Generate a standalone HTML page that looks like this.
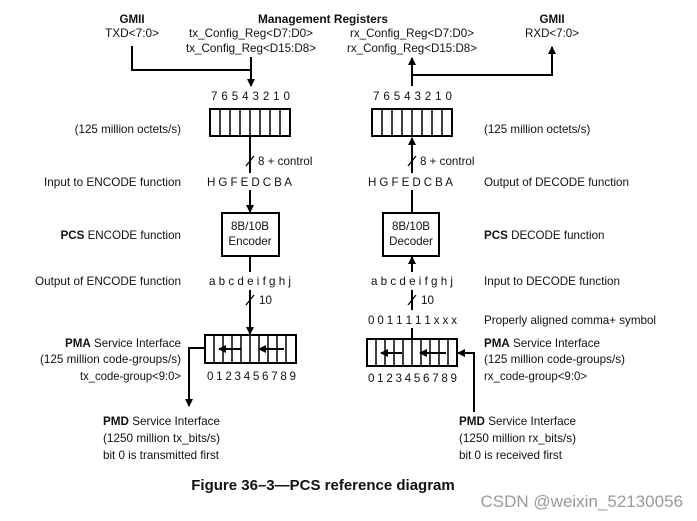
<!DOCTYPE html>
<html><head><meta charset="utf-8"><style>
html,body{margin:0;padding:0;background:#fff;}
svg{display:block;font-family:"Liberation Sans",Arial,sans-serif;}
text{font-size:11.6px;fill:#111;}
</style></head><body>
<svg width="697" height="521" viewBox="0 0 697 521" xmlns="http://www.w3.org/2000/svg">
<defs>
<marker id="a" markerWidth="8" markerHeight="8" refX="7" refY="4" orient="auto" markerUnits="userSpaceOnUse"><path d="M0,0 L8,4 L0,8 z" fill="#000"/></marker>
</defs>
<g stroke="#000" stroke-width="2" fill="none">
<polyline points="132,46 132,70 251,70"/>
<line x1="251" y1="57" x2="251" y2="86" marker-end="url(#a)"/>
<line x1="412" y1="86" x2="412" y2="58" marker-end="url(#a)"/>
<polyline points="412,75 552,75 552,47" marker-end="url(#a)"/>
<rect x="210" y="109" width="80" height="27"/>
<rect x="372" y="109" width="80" height="27"/>
</g>
<g stroke="#000" stroke-width="1.5">
<line x1="220" y1="109" x2="220" y2="136"/><line x1="230" y1="109" x2="230" y2="136"/><line x1="240" y1="109" x2="240" y2="136"/><line x1="250" y1="109" x2="250" y2="136"/><line x1="260" y1="109" x2="260" y2="136"/><line x1="270" y1="109" x2="270" y2="136"/><line x1="280" y1="109" x2="280" y2="136"/>
<line x1="382" y1="109" x2="382" y2="136"/><line x1="392" y1="109" x2="392" y2="136"/><line x1="402" y1="109" x2="402" y2="136"/><line x1="412" y1="109" x2="412" y2="136"/><line x1="422" y1="109" x2="422" y2="136"/><line x1="432" y1="109" x2="432" y2="136"/><line x1="442" y1="109" x2="442" y2="136"/>
</g>
<g stroke="#000" stroke-width="2" fill="none">
<line x1="250" y1="136" x2="250" y2="173"/>
<line x1="412" y1="173" x2="412" y2="138" marker-end="url(#a)"/>
<line x1="246" y1="166" x2="254" y2="156" stroke-width="1.3"/>
<line x1="408" y1="166" x2="416" y2="156" stroke-width="1.3"/>
<line x1="250" y1="190" x2="250" y2="212" marker-end="url(#a)"/>
<line x1="412" y1="190" x2="412" y2="213"/>
<rect x="222" y="213" width="57" height="43"/>
<rect x="383" y="213" width="56" height="43"/>
<line x1="250" y1="256" x2="250" y2="272"/>
<line x1="412" y1="272" x2="412" y2="257" marker-end="url(#a)"/>
<line x1="250" y1="290" x2="250" y2="334" marker-end="url(#a)"/>
<line x1="246" y1="305" x2="254" y2="295" stroke-width="1.3"/>
<line x1="412" y1="290" x2="412" y2="310"/>
<line x1="408" y1="305" x2="416" y2="295" stroke-width="1.3"/>
<line x1="412" y1="328" x2="412" y2="339"/>
<rect x="205" y="335" width="91" height="28"/>
<rect x="367" y="339" width="90" height="27"/>
<polyline points="205,348 189,348 189,406" marker-end="url(#a)"/>
<polyline points="474,412 474,353 458,353" marker-end="url(#a)"/>
</g>
<g stroke="#000" stroke-width="1.5">
<line x1="214" y1="335" x2="214" y2="363"/><line x1="223" y1="335" x2="223" y2="363"/><line x1="232" y1="335" x2="232" y2="363"/><line x1="241" y1="335" x2="241" y2="363"/><line x1="250" y1="335" x2="250" y2="363"/><line x1="259" y1="335" x2="259" y2="363"/><line x1="268" y1="335" x2="268" y2="363"/><line x1="277" y1="335" x2="277" y2="363"/><line x1="286" y1="335" x2="286" y2="363"/>
<line x1="376" y1="339" x2="376" y2="366"/><line x1="385" y1="339" x2="385" y2="366"/><line x1="394" y1="339" x2="394" y2="366"/><line x1="403" y1="339" x2="403" y2="366"/><line x1="412" y1="339" x2="412" y2="366"/><line x1="421" y1="339" x2="421" y2="366"/><line x1="430" y1="339" x2="430" y2="366"/><line x1="439" y1="339" x2="439" y2="366"/><line x1="448" y1="339" x2="448" y2="366"/>
</g>
<g stroke="#000" stroke-width="2">
<line x1="241" y1="349" x2="219" y2="349" marker-end="url(#a)"/>
<line x1="284" y1="349" x2="259" y2="349" marker-end="url(#a)"/>
<line x1="402" y1="353" x2="381" y2="353" marker-end="url(#a)"/>
<line x1="446" y1="353" x2="420" y2="353" marker-end="url(#a)"/>
</g>

<text x="132" y="23" text-anchor="middle" font-weight="bold">GMII</text>
<text x="132" y="37" text-anchor="middle" textLength="54" lengthAdjust="spacingAndGlyphs">TXD&lt;7:0&gt;</text>
<text x="323" y="23" text-anchor="middle" font-weight="bold" textLength="130" lengthAdjust="spacingAndGlyphs">Management Registers</text>
<text x="251" y="37" text-anchor="middle" textLength="124" lengthAdjust="spacingAndGlyphs">tx_Config_Reg&lt;D7:D0&gt;</text>
<text x="251" y="52" text-anchor="middle" textLength="130" lengthAdjust="spacingAndGlyphs">tx_Config_Reg&lt;D15:D8&gt;</text>
<text x="412" y="37" text-anchor="middle" textLength="124" lengthAdjust="spacingAndGlyphs">rx_Config_Reg&lt;D7:D0&gt;</text>
<text x="412" y="52" text-anchor="middle" textLength="130" lengthAdjust="spacingAndGlyphs">rx_Config_Reg&lt;D15:D8&gt;</text>
<text x="552" y="23" text-anchor="middle" font-weight="bold">GMII</text>
<text x="552" y="37" text-anchor="middle" textLength="54" lengthAdjust="spacingAndGlyphs">RXD&lt;7:0&gt;</text>

<text x="211" y="100" textLength="79" lengthAdjust="spacing">7 6 5 4 3 2 1 0</text>
<text x="373" y="100" textLength="79" lengthAdjust="spacing">7 6 5 4 3 2 1 0</text>
<text x="181" y="133" text-anchor="end">(125 million octets/s)</text>
<text x="484" y="133">(125 million octets/s)</text>
<text x="258" y="165">8 + control</text>
<text x="420" y="165">8 + control</text>
<text x="181" y="186" text-anchor="end" textLength="137" lengthAdjust="spacingAndGlyphs">Input to ENCODE function</text>
<text x="207" y="186" textLength="85" lengthAdjust="spacing">H G F E D C B A</text>
<text x="368" y="186" textLength="85" lengthAdjust="spacing">H G F E D C B A</text>
<text x="484" y="186" textLength="145" lengthAdjust="spacingAndGlyphs">Output of DECODE function</text>
<text x="250" y="230" text-anchor="middle">8B/10B</text>
<text x="250" y="245" text-anchor="middle">Encoder</text>
<text x="411" y="230" text-anchor="middle">8B/10B</text>
<text x="411" y="245" text-anchor="middle">Decoder</text>
<text x="181" y="239" text-anchor="end"><tspan font-weight="bold">PCS</tspan> ENCODE function</text>
<text x="484" y="239"><tspan font-weight="bold">PCS</tspan> DECODE function</text>
<text x="181" y="285" text-anchor="end" textLength="146" lengthAdjust="spacingAndGlyphs">Output of ENCODE function</text>
<text x="209" y="285" textLength="82" lengthAdjust="spacing">a b c d e i f g h j</text>
<text x="371" y="285" textLength="82" lengthAdjust="spacing">a b c d e i f g h j</text>
<text x="484" y="285" textLength="136" lengthAdjust="spacingAndGlyphs">Input to DECODE function</text>
<text x="259" y="304">10</text>
<text x="421" y="304">10</text>
<text x="368" y="324" textLength="89" lengthAdjust="spacing">0 0 1 1 1 1 1 x x x</text>
<text x="484" y="324" textLength="172" lengthAdjust="spacingAndGlyphs">Properly aligned comma+ symbol</text>
<text x="181" y="347" text-anchor="end"><tspan font-weight="bold">PMA</tspan> Service Interface</text>
<text x="181" y="363" text-anchor="end" textLength="141" lengthAdjust="spacingAndGlyphs">(125 million code-groups/s)</text>
<text x="181" y="380" text-anchor="end" textLength="101" lengthAdjust="spacingAndGlyphs">tx_code-group&lt;9:0&gt;</text>
<text x="484" y="347"><tspan font-weight="bold">PMA</tspan> Service Interface</text>
<text x="484" y="363" textLength="141" lengthAdjust="spacingAndGlyphs">(125 million code-groups/s)</text>
<text x="484" y="380" textLength="103" lengthAdjust="spacingAndGlyphs">rx_code-group&lt;9:0&gt;</text>
<text x="207" y="380" textLength="89" lengthAdjust="spacing">0 1 2 3 4 5 6 7 8 9</text>
<text x="368" y="382" textLength="89" lengthAdjust="spacing">0 1 2 3 4 5 6 7 8 9</text>
<text x="103" y="425" textLength="117" lengthAdjust="spacingAndGlyphs"><tspan font-weight="bold">PMD</tspan> Service Interface</text>
<text x="103" y="442" textLength="117" lengthAdjust="spacingAndGlyphs">(1250 million tx_bits/s)</text>
<text x="103" y="459" textLength="116" lengthAdjust="spacingAndGlyphs">bit 0 is transmitted first</text>
<text x="459" y="425" textLength="117" lengthAdjust="spacingAndGlyphs"><tspan font-weight="bold">PMD</tspan> Service Interface</text>
<text x="459" y="442" textLength="117" lengthAdjust="spacingAndGlyphs">(1250 million rx_bits/s)</text>
<text x="459" y="459" textLength="103" lengthAdjust="spacingAndGlyphs">bit 0 is received first</text>
<text x="323" y="490" text-anchor="middle" font-weight="bold" style="font-size:15px">Figure 36–3—PCS reference diagram</text>
<text x="683" y="507" text-anchor="end" style="font-size:17px;fill:#9a9a9a">CSDN @weixin_52130056</text>
</svg>
</body></html>
